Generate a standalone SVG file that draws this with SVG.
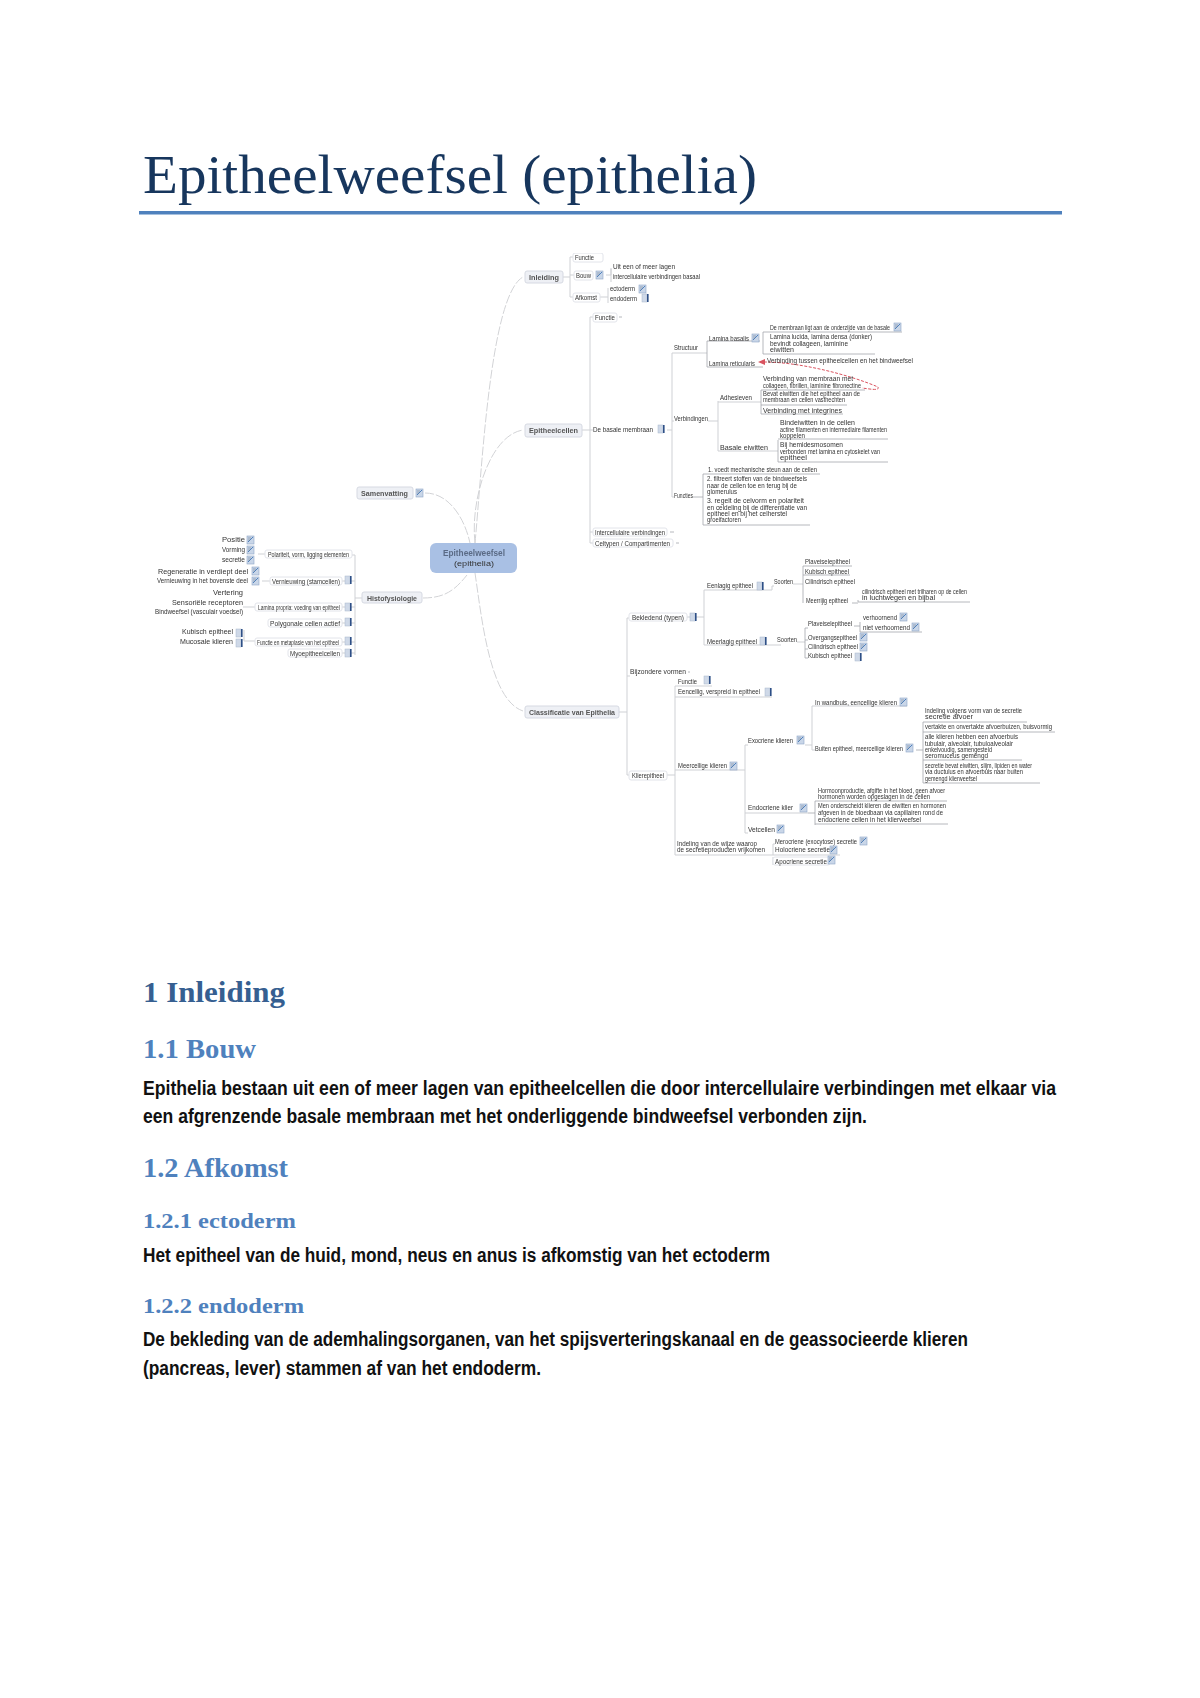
<svg xmlns="http://www.w3.org/2000/svg" width="1200" height="1698" viewBox="0 0 1200 1698">
<style>
.title{font:400 54px "Liberation Serif","DejaVu Serif",serif;fill:#17365d}
.h1{font:700 29px "Liberation Serif","DejaVu Serif",serif;fill:#365f91}
.h2{font:700 27px "Liberation Serif","DejaVu Serif",serif;fill:#4f81bd}
.h3{font:700 22px "Liberation Serif","DejaVu Serif",serif;fill:#4f81bd}
.b{font:700 19.500px "Liberation Sans",Arial,sans-serif;fill:#111}
.t{font:400 7px "Liberation Sans",Arial,sans-serif;fill:#333}
.m{font:700 8px "Liberation Sans",Arial,sans-serif;fill:#555}
.c{font:700 8.500px "Liberation Sans",Arial,sans-serif;fill:#5a6a85}
.n{fill:#fff;stroke:#e2e4ea;stroke-width:1}
.tb{fill:#eef0f5;stroke:#d6d9e2;stroke-width:1}
.l{fill:none;stroke:#cfd1d5;stroke-width:1}
.u{fill:none;stroke:#a3a6ac;stroke-width:0.800}
.d{fill:none;stroke:#d2d3d6;stroke-width:1;stroke-dasharray:9 2}
</style>
<defs>
<filter id="soft" x="0" y="0" width="1" height="1"><feGaussianBlur stdDeviation="0.45"/></filter>
<g id="i1"><rect width="7" height="8" fill="#c9d6e8" stroke="#8ea6c6" stroke-width="0.6"/><path d="M1 6L6 1" stroke="#4f81bd" stroke-width="1"/><path d="M1 2H4M1 4H3" stroke="#6f7f95" stroke-width="0.6"/></g>
<g id="i2"><rect width="5" height="8" fill="#cfd9e8" stroke="#a9b8cc" stroke-width="0.5"/><rect x="5" width="1.600" height="8" fill="#2d4f86"/></g>
</defs>
<rect width="1200" height="1698" fill="#fff"/>
<g id="page-title">
<text class="title" x="143" y="193" textLength="614" lengthAdjust="spacingAndGlyphs">Epitheelweefsel (epithelia)</text>
<rect x="139" y="211" width="923" height="3.500" fill="#4f81bd"/>
</g>
<g id="mindmap" filter="url(#soft)">
<g id="connectors">
<path class="d" d="M475 543C482 470 490 295 523 277"/>
<path class="d" d="M475 543C470 500 490 435 523 430"/>
<path class="d" d="M425 493C450 493 465 520 470 543"/>
<path class="d" d="M423 598C445 598 455 590 467 575"/>
<path class="d" d="M475 573C482 620 490 700 523 711"/>
<path class="l" d="M355 555V655M352 555H355M342 581H355M342 607H355M342 623H355M342 642H355M342 653H355M355 598H362"/>
<path class="l" d="M258 554H265M262 581H270M243 607H255M244 641H255M244 641V630"/>
<path class="l" d="M563 277H570V257H573M570 277V297H573M570 275H574M606 275H611V268M611 282V269M600 297H608M608 288V303"/>
<path class="l" d="M582 430H590M590 317V543M590 317H593M590 430H593M590 532H593M590 543H593"/>
<path class="l" d="M667 430H672M672 353V497M672 353H707M672 421H674M672 497H674"/>
<path class="u" d="M707 341V367M707 341H760M707 367H763M763 332V354M763 332H902M763 354H875"/>
<path class="l" d="M718 401V451M708 421H718M718 402H761M718 451H778"/>
<path class="u" d="M761 390V414M761 390H865M761 405H847M761 414H843"/>
<path class="u" d="M778 440V462M778 439H888M778 462H888"/>
<path class="u" d="M703 474V525M693 497H703M703 474H820M703 525H810"/>
<path fill="none" stroke="#d9535f" stroke-width="1" stroke-dasharray="3 1.500" d="M764 362C800 362 850 375 878 387C880 391 870 389 862 388"/>
<path d="M758 362L765 359V365Z" fill="#d9535f"/>
<path class="l" d="M619 712H627M627 618V775M627 618H629M627 676H630M627 775H629"/>
<path class="l" d="M687 617H704M704 590V645M704 590H772M704 645H775M775 645H781"/>
<path class="l" d="M772 590V586H774M797 642H805M793 584H803"/>
<path class="u" d="M803 566V603M803 566H852M803 575H850M858 600V602M858 602H970M852 603H858M805 628V658M805 628H808M805 640H808M805 649H808M805 658H808M860 622V632M860 632H922M854 626H860"/>
<path class="l" d="M667 775H675M675 686V855M675 686H712M675 697H772M675 770H740M675 855H773"/>
<path class="l" d="M740 770H745M745 745V833M745 745H748M745 813H808M745 833H748"/>
<path class="l" d="M805 745H812M812 706V750M812 706H907M812 750H815"/>
<path class="u" d="M916 750H923M923 722V783M923 722H1027M923 732H1055M923 760H1022M923 783H1040"/>
<path class="u" d="M808 813H815M815 801V825M815 801H947M815 824H948"/>
<path class="l" d="M773 855V844H775M773 855H840M773 857V865"/>
</g>
<g id="central"><rect x="430" y="543" width="87" height="30" rx="6" fill="#a9c0e4"/><text class="c" x="443" y="556" textLength="62" lengthAdjust="spacingAndGlyphs">Epitheelweefsel</text><text class="t" x="454" y="566" textLength="40" lengthAdjust="spacingAndGlyphs">(epithelia)</text></g>
<g id="samenvatting"><rect class="tb" x="357" y="487" width="56" height="12" rx="2"/><text class="m" x="361" y="496" textLength="47" lengthAdjust="spacingAndGlyphs">Samenvatting</text><use href="#i1" x="416" y="489"/></g>
<g id="histofysiologie"><rect class="tb" x="362" y="592" width="60" height="11" rx="2"/><text class="m" x="367" y="601" textLength="50" lengthAdjust="spacingAndGlyphs">Histofysiologie</text></g>
<g id="inleiding"><rect class="tb" x="525" y="271" width="38" height="12" rx="2"/><text class="m" x="529" y="280" textLength="30" lengthAdjust="spacingAndGlyphs">Inleiding</text></g>
<g id="epitheelcellen"><rect class="tb" x="525" y="424" width="57" height="13" rx="2"/><text class="m" x="529" y="433" textLength="49" lengthAdjust="spacingAndGlyphs">Epitheelcellen</text></g>
<g id="classificatie"><rect class="tb" x="525" y="706" width="94" height="12" rx="2"/><text class="m" x="529" y="715" textLength="86" lengthAdjust="spacingAndGlyphs">Classificatie van Epithelia</text></g>

<g id="hist-left">
<text class="t" x="222" y="542" textLength="23" lengthAdjust="spacingAndGlyphs">Positie</text><use href="#i1" x="247" y="536"/>
<text class="t" x="222" y="552" textLength="23" lengthAdjust="spacingAndGlyphs">Vorming</text><use href="#i1" x="247" y="546"/>
<text class="t" x="222" y="562" textLength="23" lengthAdjust="spacingAndGlyphs">secretie</text><use href="#i1" x="247" y="556"/>
<text class="t" x="158" y="574" textLength="90" lengthAdjust="spacingAndGlyphs">Regeneratie in verdiept deel</text><use href="#i1" x="252" y="567"/>
<text class="t" x="157" y="583" textLength="91" lengthAdjust="spacingAndGlyphs">Vernieuwing in het bovenste deel</text><use href="#i1" x="252" y="577"/>
<text class="t" x="213" y="595" textLength="30" lengthAdjust="spacingAndGlyphs">Vertering</text>
<text class="t" x="172" y="605" textLength="71" lengthAdjust="spacingAndGlyphs">Sensoriële receptoren</text>
<text class="t" x="155" y="614" textLength="88" lengthAdjust="spacingAndGlyphs">Bindweefsel (vasculair voedsel)</text>
<text class="t" x="182" y="634" textLength="51" lengthAdjust="spacingAndGlyphs">Kubisch epitheel</text><use href="#i2" x="236" y="629"/>
<text class="t" x="180" y="644" textLength="53" lengthAdjust="spacingAndGlyphs">Mucosale klieren</text><use href="#i2" x="236" y="639"/>
</g>
<g id="h1n"><rect class="n" x="265" y="550" width="87" height="8" rx="2"/><text class="t" x="268" y="557" textLength="81" lengthAdjust="spacingAndGlyphs">Polariteit, vorm, ligging elementen</text></g>
<g id="h2n"><rect class="n" x="270" y="577" width="72" height="8" rx="2"/><text class="t" x="272" y="584" textLength="68" lengthAdjust="spacingAndGlyphs">Vernieuwing (stamcellen)</text><use href="#i2" x="345" y="576"/></g>
<g id="h3n"><rect class="n" x="255" y="603" width="87" height="8" rx="2"/><text class="t" x="258" y="610" textLength="82" lengthAdjust="spacingAndGlyphs">Lamina propria: voeding van epitheel</text><use href="#i2" x="345" y="603"/></g>
<g id="h4n"><rect class="n" x="268" y="619" width="74" height="8" rx="2"/><text class="t" x="270" y="626" textLength="70" lengthAdjust="spacingAndGlyphs">Polygonale cellen actief</text><use href="#i2" x="345" y="618"/></g>
<g id="h5n"><rect class="n" x="255" y="638" width="87" height="8" rx="2"/><text class="t" x="257" y="645" textLength="82" lengthAdjust="spacingAndGlyphs">Functie en metaplasie van het epitheel</text><use href="#i2" x="345" y="637"/></g>
<g id="h6n"><rect class="n" x="288" y="649" width="54" height="8" rx="2"/><text class="t" x="290" y="656" textLength="50" lengthAdjust="spacingAndGlyphs">Myoepitheelcellen</text><use href="#i2" x="345" y="649"/></g>

<g id="inl-children">
<rect class="n" x="573" y="253" width="30" height="9" rx="2"/><text class="t" x="575" y="260" textLength="19" lengthAdjust="spacingAndGlyphs">Functie</text>
<rect class="n" x="574" y="271" width="19" height="9" rx="2"/><text class="t" x="576" y="278" textLength="15" lengthAdjust="spacingAndGlyphs">Bouw</text><use href="#i1" x="596" y="271"/>
<text class="t" x="613" y="269" textLength="62" lengthAdjust="spacingAndGlyphs">Uit een of meer lagen</text>
<text class="t" x="613" y="279" textLength="87" lengthAdjust="spacingAndGlyphs">intercellulaire verbindingen basaal</text>
<rect class="n" x="573" y="293" width="27" height="9" rx="2"/><text class="t" x="575" y="300" textLength="22" lengthAdjust="spacingAndGlyphs">Afkomst</text>
<text class="t" x="610" y="291" textLength="25" lengthAdjust="spacingAndGlyphs">ectoderm</text><use href="#i1" x="639" y="285"/>
<text class="t" x="610" y="301" textLength="27" lengthAdjust="spacingAndGlyphs">endoderm</text><use href="#i2" x="642" y="294"/>
</g>
<g id="epi-children">
<rect class="n" x="593" y="313" width="24" height="9" rx="2"/><text class="t" x="595" y="320" textLength="20" lengthAdjust="spacingAndGlyphs">Functie</text><path class="u" d="M619 317h3"/>
<text class="t" x="593" y="432" textLength="60" lengthAdjust="spacingAndGlyphs">De basale membraan</text><use href="#i2" x="658" y="425"/>
<rect class="n" x="593" y="528" width="74" height="8" rx="2"/><text class="t" x="595" y="535" textLength="70" lengthAdjust="spacingAndGlyphs">Intercellulaire verbindingen</text><path class="u" d="M670 532h4"/>
<rect class="n" x="593" y="539" width="80" height="8" rx="2"/><text class="t" x="595" y="546" textLength="75" lengthAdjust="spacingAndGlyphs">Celtypen / Compartimenten</text><path class="u" d="M676 543h3"/>
</g>
<g id="membraan">
<text class="t" x="674" y="350" textLength="24" lengthAdjust="spacingAndGlyphs">Structuur</text>
<text class="t" x="674" y="421" textLength="34" lengthAdjust="spacingAndGlyphs">Verbindingen</text>
<text class="t" x="674" y="498" textLength="19" lengthAdjust="spacingAndGlyphs">Functies</text>
<text class="t" x="709" y="341" textLength="40" lengthAdjust="spacingAndGlyphs">Lamina basalis</text><use href="#i1" x="752" y="334"/>
<text class="t" x="709" y="366" textLength="46" lengthAdjust="spacingAndGlyphs">Lamina reticularis</text>
<text class="t" x="770" y="330" textLength="120" lengthAdjust="spacingAndGlyphs">De membraan ligt aan de onderzijde van de basale</text><use href="#i1" x="894" y="323"/>
<text class="t" x="770" y="339" textLength="102" lengthAdjust="spacingAndGlyphs">Lamina lucida, lamina densa (donker)</text>
<text class="t" x="770" y="346" textLength="78" lengthAdjust="spacingAndGlyphs">bevindt collageen, laminine</text>
<text class="t" x="770" y="352" textLength="24" lengthAdjust="spacingAndGlyphs">eiwitten</text>
<text class="t" x="767" y="363" textLength="146" lengthAdjust="spacingAndGlyphs">Verbinding tussen epitheelcellen en het bindweefsel</text>
<text class="t" x="720" y="400" textLength="32" lengthAdjust="spacingAndGlyphs">Adhesieven</text>
<text class="t" x="720" y="450" textLength="48" lengthAdjust="spacingAndGlyphs">Basale eiwitten</text>
<text class="t" x="763" y="381" textLength="90" lengthAdjust="spacingAndGlyphs">Verbinding van membraan met</text>
<text class="t" x="763" y="388" textLength="98" lengthAdjust="spacingAndGlyphs">collageen, fibrillen, laminine fibronectine</text>
<text class="t" x="763" y="396" textLength="97" lengthAdjust="spacingAndGlyphs">Bevat eiwitten die het epitheel aan de</text>
<text class="t" x="763" y="402" textLength="82" lengthAdjust="spacingAndGlyphs">membraan en cellen vasthechten</text>
<text class="t" x="763" y="413" textLength="79" lengthAdjust="spacingAndGlyphs">Verbinding met integrines</text>
<text class="t" x="780" y="425" textLength="75" lengthAdjust="spacingAndGlyphs">Bindeiwitten in de cellen</text>
<text class="t" x="780" y="432" textLength="107" lengthAdjust="spacingAndGlyphs">actine filamenten en intermediaire filamenten</text>
<text class="t" x="780" y="438" textLength="25" lengthAdjust="spacingAndGlyphs">koppelen</text>
<text class="t" x="780" y="447" textLength="63" lengthAdjust="spacingAndGlyphs">Bij hemidesmosomen</text>
<text class="t" x="780" y="454" textLength="100" lengthAdjust="spacingAndGlyphs">verbonden met lamina en cytoskelet van</text>
<text class="t" x="780" y="460" textLength="27" lengthAdjust="spacingAndGlyphs">epitheel</text>
<text class="t" x="708" y="472" textLength="109" lengthAdjust="spacingAndGlyphs">1. voedt mechanische steun aan de cellen</text>
<text class="t" x="707" y="481" textLength="100" lengthAdjust="spacingAndGlyphs">2. filtreert stoffen van de bindweefsels</text>
<text class="t" x="707" y="488" textLength="90" lengthAdjust="spacingAndGlyphs">naar de cellen toe en terug bij de</text>
<text class="t" x="707" y="494" textLength="30" lengthAdjust="spacingAndGlyphs">glomerulus</text>
<text class="t" x="707" y="503" textLength="97" lengthAdjust="spacingAndGlyphs">3. regelt de celvorm en polariteit</text>
<text class="t" x="707" y="510" textLength="100" lengthAdjust="spacingAndGlyphs">en celdeling bij de differentiatie van</text>
<text class="t" x="707" y="516" textLength="80" lengthAdjust="spacingAndGlyphs">epitheel en bij het celherstel</text>
<text class="t" x="707" y="522" textLength="34" lengthAdjust="spacingAndGlyphs">groeifactoren</text>
</g>
<g id="class-children">
<rect class="n" x="629" y="613" width="58" height="8" rx="2"/><text class="t" x="632" y="620" textLength="52" lengthAdjust="spacingAndGlyphs">Bekledend (typen)</text><use href="#i2" x="690" y="613"/>
<text class="t" x="630" y="674" textLength="56" lengthAdjust="spacingAndGlyphs">Bijzondere vormen</text><path class="u" d="M688 672h2"/>
<rect class="n" x="629" y="771" width="38" height="9" rx="2"/><text class="t" x="632" y="778" textLength="32" lengthAdjust="spacingAndGlyphs">Klierepitheel</text>
<text class="t" x="707" y="588" textLength="46" lengthAdjust="spacingAndGlyphs">Eenlagig epitheel</text><use href="#i2" x="757" y="582"/>
<text class="t" x="707" y="644" textLength="50" lengthAdjust="spacingAndGlyphs">Meerlagig epitheel</text><use href="#i2" x="760" y="637"/>
<text class="t" x="774" y="584" textLength="19" lengthAdjust="spacingAndGlyphs">Soorten</text>
<text class="t" x="777" y="642" textLength="20" lengthAdjust="spacingAndGlyphs">Soorten</text>
<text class="t" x="805" y="564" textLength="45" lengthAdjust="spacingAndGlyphs">Plaveiselepitheel</text>
<text class="t" x="805" y="574" textLength="44" lengthAdjust="spacingAndGlyphs">Kubisch epitheel</text>
<text class="t" x="805" y="584" textLength="50" lengthAdjust="spacingAndGlyphs">Cilindrisch epitheel</text>
<text class="t" x="806" y="603" textLength="42" lengthAdjust="spacingAndGlyphs">Meerrijig epitheel</text>
<text class="t" x="862" y="594" textLength="105" lengthAdjust="spacingAndGlyphs">cilindrisch epitheel met trilharen op de cellen</text>
<text class="t" x="862" y="600" textLength="73" lengthAdjust="spacingAndGlyphs">in luchtwegen en bijbal</text>
<text class="t" x="808" y="626" textLength="44" lengthAdjust="spacingAndGlyphs">Plaveiselepitheel</text>
<text class="t" x="863" y="620" textLength="34" lengthAdjust="spacingAndGlyphs">verhoornend</text><use href="#i1" x="900" y="613"/>
<text class="t" x="863" y="630" textLength="47" lengthAdjust="spacingAndGlyphs">niet verhoornend</text><use href="#i1" x="912" y="623"/>
<text class="t" x="808" y="640" textLength="49" lengthAdjust="spacingAndGlyphs">Overgangsepitheel</text><use href="#i1" x="860" y="633"/>
<text class="t" x="808" y="649" textLength="50" lengthAdjust="spacingAndGlyphs">Cilindrisch epitheel</text><use href="#i1" x="860" y="643"/>
<text class="t" x="808" y="658" textLength="44" lengthAdjust="spacingAndGlyphs">Kubisch epitheel</text><use href="#i2" x="855" y="653"/>
</g>
<g id="klier">
<text class="t" x="678" y="684" textLength="19" lengthAdjust="spacingAndGlyphs">Functie</text><use href="#i2" x="704" y="676"/>
<text class="t" x="678" y="694" textLength="82" lengthAdjust="spacingAndGlyphs">Eencellig, verspreid in epitheel</text><use href="#i2" x="765" y="688"/>
<text class="t" x="678" y="768" textLength="49" lengthAdjust="spacingAndGlyphs">Meercellige klieren</text><use href="#i1" x="730" y="762"/>
<text class="t" x="677" y="846" textLength="80" lengthAdjust="spacingAndGlyphs">Indeling van de wijze waarop</text>
<text class="t" x="677" y="852" textLength="88" lengthAdjust="spacingAndGlyphs">de secretieproducten vrijkomen</text>
<text class="t" x="748" y="743" textLength="45" lengthAdjust="spacingAndGlyphs">Exocriene klieren</text><use href="#i1" x="797" y="736"/>
<text class="t" x="748" y="810" textLength="45" lengthAdjust="spacingAndGlyphs">Endocriene klier</text><use href="#i1" x="800" y="804"/>
<text class="t" x="748" y="832" textLength="27" lengthAdjust="spacingAndGlyphs">Vetcellen</text><use href="#i1" x="777" y="825"/>
<text class="t" x="815" y="705" textLength="82" lengthAdjust="spacingAndGlyphs">In wandbuis, eencellige klieren</text><use href="#i1" x="900" y="698"/>
<text class="t" x="815" y="751" textLength="88" lengthAdjust="spacingAndGlyphs">Buiten epitheel, meercellige klieren</text><use href="#i1" x="906" y="744"/>
<text class="t" x="925" y="713" textLength="97" lengthAdjust="spacingAndGlyphs">Indeling volgens vorm van de secretie</text>
<text class="t" x="925" y="719" textLength="48" lengthAdjust="spacingAndGlyphs">secretie afvoer</text>
<text class="t" x="925" y="729" textLength="127" lengthAdjust="spacingAndGlyphs">vertakte en onvertakte afvoerbuizen, buisvormig</text>
<text class="t" x="925" y="739" textLength="93" lengthAdjust="spacingAndGlyphs">alle klieren hebben een afvoerbuis</text>
<text class="t" x="925" y="746" textLength="88" lengthAdjust="spacingAndGlyphs">tubulair, alveolair, tubuloalveolair</text>
<text class="t" x="925" y="752" textLength="67" lengthAdjust="spacingAndGlyphs">enkelvoudig, samengesteld</text>
<text class="t" x="925" y="758" textLength="63" lengthAdjust="spacingAndGlyphs">seromuceus gemengd</text>
<text class="t" x="925" y="768" textLength="107" lengthAdjust="spacingAndGlyphs">secretie bevat eiwitten, slijm, lipiden en water</text>
<text class="t" x="925" y="774" textLength="98" lengthAdjust="spacingAndGlyphs">via ductulus en afvoerbuis naar buiten</text>
<text class="t" x="925" y="781" textLength="52" lengthAdjust="spacingAndGlyphs">gemengd klierweefsel</text>
<text class="t" x="818" y="793" textLength="127" lengthAdjust="spacingAndGlyphs">Hormoonproductie, afgifte in het bloed, geen afvoer</text>
<text class="t" x="818" y="799" textLength="112" lengthAdjust="spacingAndGlyphs">hormonen worden opgeslagen in de cellen</text>
<text class="t" x="818" y="808" textLength="128" lengthAdjust="spacingAndGlyphs">Men onderscheidt klieren die eiwitten en hormonen</text>
<text class="t" x="818" y="815" textLength="125" lengthAdjust="spacingAndGlyphs">afgeven in de bloedbaan via capillairen rond de</text>
<text class="t" x="818" y="822" textLength="103" lengthAdjust="spacingAndGlyphs">endocriene cellen in het klierweefsel</text>
<text class="t" x="775" y="844" textLength="82" lengthAdjust="spacingAndGlyphs">Merocriene (exocytose) secretie</text><use href="#i1" x="860" y="837"/>
<text class="t" x="775" y="852" textLength="55" lengthAdjust="spacingAndGlyphs">Holocriene secretie</text><use href="#i1" x="830" y="846"/>
<rect class="n" x="773" y="857" width="57" height="8" rx="2"/><text class="t" x="775" y="864" textLength="52" lengthAdjust="spacingAndGlyphs">Apocriene secretie</text><use href="#i1" x="828" y="856"/>
</g>
</g>
<g id="body">
<text class="h1" x="143" y="1002" textLength="142" lengthAdjust="spacingAndGlyphs">1 Inleiding</text>
<text class="h2" x="143" y="1058" textLength="113" lengthAdjust="spacingAndGlyphs">1.1 Bouw</text>
<text class="b" x="143" y="1095" textLength="913" lengthAdjust="spacingAndGlyphs">Epithelia bestaan uit een of meer lagen van epitheelcellen die door intercellulaire  verbindingen met elkaar via</text>
<text class="b" x="143" y="1123" textLength="724" lengthAdjust="spacingAndGlyphs">een afgrenzende basale membraan met het onderliggende  bindweefsel verbonden zijn.</text>
<text class="h2" x="143" y="1177" textLength="145" lengthAdjust="spacingAndGlyphs">1.2 Afkomst</text>
<text class="h3" x="143" y="1228" textLength="153" lengthAdjust="spacingAndGlyphs">1.2.1 ectoderm</text>
<text class="b" x="143" y="1262" textLength="627" lengthAdjust="spacingAndGlyphs">Het epitheel van de huid, mond, neus en anus is afkomstig van het ectoderm</text>
<text class="h3" x="143" y="1313" textLength="161" lengthAdjust="spacingAndGlyphs">1.2.2 endoderm</text>
<text class="b" x="143" y="1346" textLength="825" lengthAdjust="spacingAndGlyphs">De bekleding van de ademhalingsorganen, van het spijsverteringskanaal en de geassocieerde  klieren</text>
<text class="b" x="143" y="1375" textLength="398" lengthAdjust="spacingAndGlyphs">(pancreas, lever) stammen af van het endoderm.</text>
</g>
</svg>
